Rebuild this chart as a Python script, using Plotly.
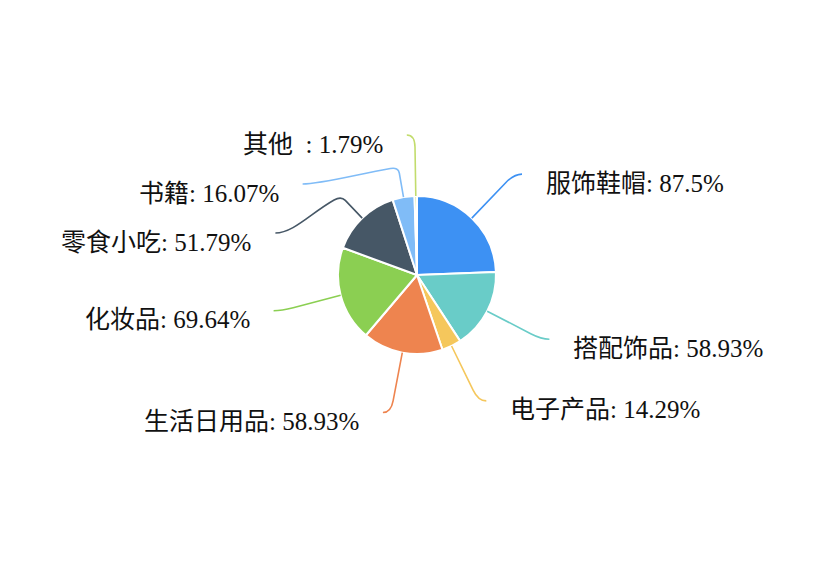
import math
import plotly.graph_objects as go

# 数据
categories = ["服饰鞋帽", "搭配饰品", "电子产品", "生活日用品", "化妆品", "零食小吃", "书籍", "其他 "]
values = [87.5, 58.93, 14.29, 58.93, 69.64, 51.79, 16.07, 1.79]
colors = ["#3d91f3", "#69ccc8", "#f5c75c", "#ee844f", "#8bcf52", "#465766", "#80bcf7", "#c2dc6c"]

W, H = 828, 567
off = 8                            # 页面 body 的默认边距
cx, cy, r = 417 - off, 275 - off, 79   # 饼图中心和半径 (px)
len1, len2 = 61, 8                 # 引导线长度
min_gap = 49                       # 标签最小间距
gap_text, dy_text = 22, 9
font = dict(family="Times New Roman, Liberation Serif, Noto Sans CJK SC", size=25, color="#111")

total = sum(values)

# 每个扇区的中角 (从顶部顺时针)
items = []
acc = 0
for name, v, c in zip(categories, values, colors):
    mid = (acc + v / 2) / total * 2 * math.pi
    acc += v
    sx, sy = math.sin(mid), -math.cos(mid)
    d = 1 if sx >= 0 else -1
    p0 = (cx + r * sx, cy + r * sy)
    p1 = (cx + (r + len1) * sx, cy + (r + len1) * sy)
    items.append(dict(name=name, v=v, c=c, sx=sx, sy=sy, dir=d, p0=p0, p1=p1,
                      x=p1[0] + d * len2, y=p1[1], shifted=False))

# 简单的防重叠: 每侧按 y 排序向下推
for d in (1, -1):
    side = sorted([it for it in items if it["dir"] == d], key=lambda it: it["y"])
    for i in range(1, len(side)):
        need = side[i - 1]["y"] + min_gap
        if side[i]["y"] < need:
            side[i]["y"] = need
            side[i]["shifted"] = True
    # 推移后的标签重新计算 x (沿椭圆)
    if any(it["shifted"] for it in side):
        for semi in ([it for it in side if it["y"] <= cy], [it for it in side if it["y"] > cy]):
            if not semi:
                continue
            top = max(semi, key=lambda it: abs(it["y"] - cy))
            rA = r + len1
            ddx = top["p1"][0] - cx
            ddy = abs(top["y"] - cy)
            rB = math.sqrt(ddy ** 2 / (1 - ddx ** 2 / rA ** 2)) if abs(ddx) < rA else rA
            for it in semi:
                if not it["shifted"]:
                    continue
                dyy = abs(it["y"] - cy)
                dxx = math.sqrt(max(0, 1 - dyy ** 2 / rB ** 2)) * rA
                it["x"] = cx + (dxx + len2) * d

shapes = []
annotations = []
for it in items:
    x0, y0 = it["p0"]
    x2, y2 = it["x"], it["y"]
    d = it["dir"]
    if it["shifted"]:
        k = r + len1 / 2
        x1, y1 = cx + k * it["sx"], cy + k * it["sy"]
        ax, ay = cx + (k - 6) * it["sx"], cy + (k - 6) * it["sy"]
        L = math.hypot(x2 - x1, y2 - y1)
        bx, by = x1 + (x2 - x1) / L * 8, y1 + (y2 - y1) / L * 8
        path = (f"M {x0:.1f},{y0:.1f} L {ax:.1f},{ay:.1f} Q {x1:.1f},{y1:.1f} {bx:.1f},{by:.1f} "
                f"C {bx + (x2 - x1) * 0.35:.1f},{by + (y2 - y1) * 0.35:.1f} "
                f"{x2 - d * 18:.1f},{y2:.1f} {x2:.1f},{y2:.1f}")
    else:
        x1, y1 = it["p1"]
        ax, ay = cx + (r + len1 - 12) * it["sx"], cy + (r + len1 - 12) * it["sy"]
        path = f"M {x0:.1f},{y0:.1f} L {ax:.1f},{ay:.1f} Q {x1:.1f},{y1:.1f} {x2:.1f},{y2:.1f}"
    shapes.append(dict(type="path", path=path, xref="x", yref="y",
                       line=dict(color=it["c"], width=1.6)))
    name = it["name"].replace(" ", "\u00a0\u00a0")
    annotations.append(dict(x=x2 + d * gap_text, y=y2 + dy_text, xref="x", yref="y",
                            text=f"{name}: {it['v']:g}%", showarrow=False,
                            xanchor="left" if d > 0 else "right", yanchor="middle", font=font))

pie = go.Pie(labels=categories, values=values, sort=False, direction="clockwise", rotation=0,
             marker=dict(colors=colors, line=dict(color="white", width=2)),
             textinfo="none", hoverinfo="label+value", showlegend=False,
             domain=dict(x=[(cx - r) / W, (cx + r) / W], y=[(H - cy - r) / H, (H - cy + r) / H]))

fig = go.Figure(data=[pie])
fig.update_layout(
    width=W, height=H, margin=dict(l=0, r=0, t=0, b=0),
    paper_bgcolor="white", plot_bgcolor="rgba(0,0,0,0)",
    xaxis=dict(range=[0, W], visible=False, fixedrange=True),
    yaxis=dict(range=[H, 0], visible=False, fixedrange=True),
    shapes=shapes, annotations=annotations,
)
fig.write_html("out.html")
